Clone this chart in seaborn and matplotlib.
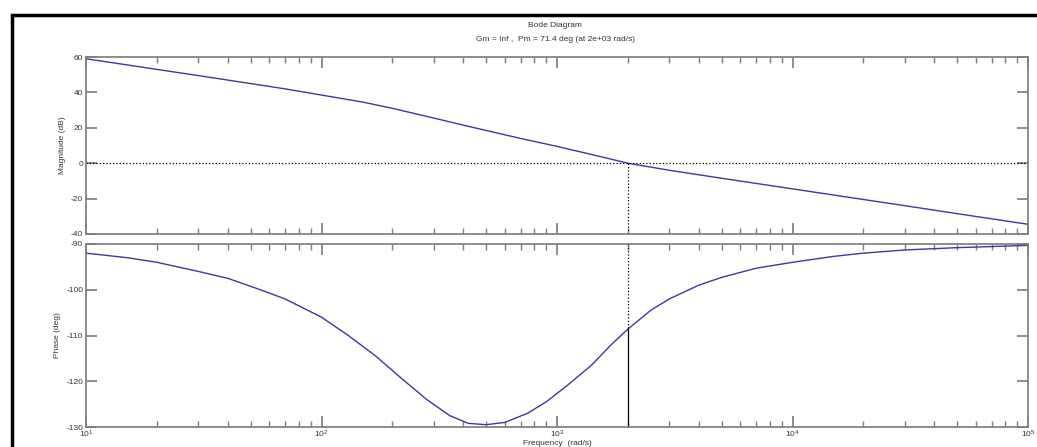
import matplotlib
matplotlib.use('Agg')
import matplotlib.pyplot as plt
import seaborn as sns
import pandas as pd
from matplotlib.patches import Rectangle

sns.set_theme(style='ticks')
plt.rcParams['font.family'] = ['Liberation Sans', 'DejaVu Sans']
plt.rcParams['axes.unicode_minus'] = False

freq_mag = [10, 15, 20, 30, 50, 70, 100, 150, 200, 300, 400, 500, 700, 1000, 1500, 2000, 3000,
            5000, 10000, 20000, 30000, 50000, 100000]
mag_db = [59, 55.5, 53, 49.5, 45, 42, 38.5, 34.5, 31, 25.5, 21.5, 18.5, 14, 9.5, 4, 0, -4,
          -8.5, -14.5, -20.5, -24, -28.5, -34.5]
freq_ph = [10, 15, 20, 30, 40, 55, 70, 100, 130, 170, 220, 280, 350, 420, 500, 600, 750, 900,
           1100, 1400, 1700, 2000, 2500, 3000, 4000, 5000, 7000, 10000, 15000, 20000, 30000,
           50000, 100000]
phase_deg = [-92, -93, -94, -96, -97.5, -100, -102, -106, -110, -114.5, -119.5, -124, -127.5,
             -129.2, -129.5, -129, -127, -124.5, -121, -116.5, -112, -108.6, -104.5, -102,
             -99, -97.3, -95.3, -94, -92.7, -92, -91.3, -90.8, -90.3]
wc = 2000
pm_phase = -108.6

edge = '#7f7f7f'
line_c = '#3838a8'
txt = '#333333'

fig = plt.figure(figsize=(10.37, 4.47), dpi=100)
fig.patches.append(Rectangle((12 / 1037, -0.1), 1.2, 1.1 - 15 / 447, transform=fig.transFigure,
                             fill=False, edgecolor='black', linewidth=2.5))
ax1 = fig.add_axes([86 / 1037, 1 - 234 / 447, 942 / 1037, 177 / 447])
ax2 = fig.add_axes([86 / 1037, 1 - 427 / 447, 942 / 1037, 183 / 447])

sns.lineplot(x=freq_mag, y=mag_db, ax=ax1, color=line_c, linewidth=1)
sns.lineplot(x=freq_ph, y=phase_deg, ax=ax2, color=line_c, linewidth=1)

for ax in (ax1, ax2):
    ax.set_xscale('log')
    ax.set_xlim(10, 1e5)
    for s in ax.spines.values():
        s.set_color(edge)
    ax.tick_params(which='both', direction='in', top=True, right=True, colors=edge,
                   labelcolor=txt, labelsize=6, pad=2)
    ax.tick_params(which='major', length=8)
    ax.tick_params(which='minor', length=4)

ax1.set_ylim(-40, 60)
ax1.set_yticks([-40, -20, 0, 20, 40, 60])
ax1.tick_params(which='both', labelbottom=False)
ax1.axhline(0, color='black', linestyle=':', linewidth=0.9)
ax1.plot([wc, wc], [-40, 0], color='black', linestyle=':', linewidth=0.9)
ax1.set_ylabel('Magnitude (dB)', fontsize=6, color=txt)

ax2.set_ylim(-130, -90)
ax2.set_yticks([-130, -120, -110, -100, -90])
ax2.plot([wc, wc], [-90, pm_phase], color='black', linestyle=':', linewidth=0.9)
ax2.plot([wc, wc], [-130, pm_phase], color='black', linewidth=0.9)
ax2.set_ylabel('Phase (deg)', fontsize=6, color=txt)
ax2.tick_params(axis='x', pad=1)
ax2.set_xlabel('Frequency  (rad/s)', fontsize=6, color=txt, labelpad=0)

fig.text(555 / 1037, 1 - 27 / 447, 'Bode Diagram', ha='center', fontsize=6, color=txt)
fig.text(555 / 1037, 1 - 41 / 447, 'Gm = Inf ,  Pm = 71.4 deg (at 2e+03 rad/s)', ha='center',
         fontsize=6, color=txt)

fig.savefig('out.png', dpi=100)
plt.close(fig)
